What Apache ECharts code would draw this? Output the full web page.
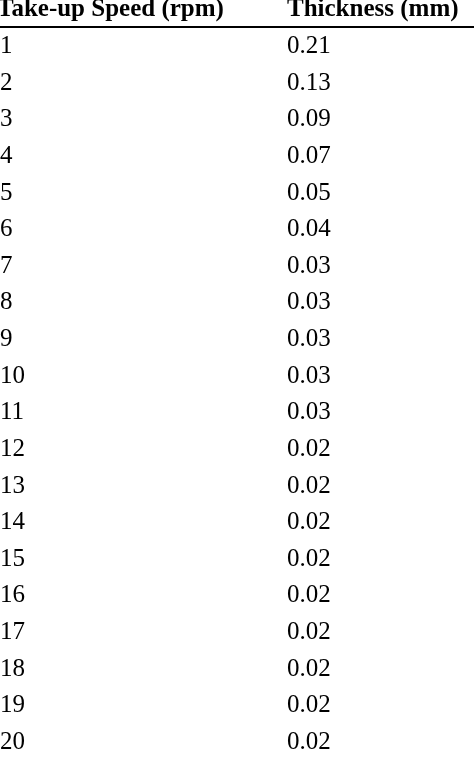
<!DOCTYPE html>
<html><head><meta charset="utf-8">
<script src="https://cdn.jsdelivr.net/npm/echarts@6/dist/echarts.min.js"></script>
<style>html,body{margin:0;padding:0;background:#fff}#c{width:474px;height:758px}</style>
</head><body><div id="c"></div>
<script>
const headers = ['Take-up Speed (rpm)', 'Thickness (mm)'];
const speeds = ['1','2','3','4','5','6','7','8','9','10','11','12','13','14','15','16','17','18','19','20'];
const thickness = ['0.21','0.13','0.09','0.07','0.05','0.04','0.03','0.03','0.03','0.03','0.03','0.02','0.02','0.02','0.02','0.02','0.02','0.02','0.02','0.02'];

const cells = [];
headers.forEach((h, c) => cells.push([c, 0, h, 1]));
speeds.forEach((s, r) => cells.push([0, r + 1, s, 0]));
thickness.forEach((t, r) => cells.push([1, r + 1, t, 0]));

const chart = echarts.init(document.getElementById('c'), null, {renderer: 'canvas'});
chart.setOption({
  animation: false,
  grid: {left: 0, right: 0, top: 0, bottom: 0},
  xAxis: {type: 'value', min: 0, max: 474 / 287, show: false},
  yAxis: {type: 'value', inverse: true, min: -0.24, max: -0.24 + 758 / 36.63, show: false},
  series: [{
    type: 'custom',
    data: cells,
    renderItem: function (params, api) {
      const p = api.coord([api.value(0), api.value(1)]);
      const bold = api.value(3) === 1;
      const children = [{
        type: 'text',
        style: {
          x: p[0] + (bold && api.value(0) === 0 ? -3 : 0), y: p[1] + 1,
          text: cells[params.dataIndex][2],
          fill: '#000',
          fontFamily: 'Liberation Serif',
          fontSize: 25,
          fontWeight: bold ? 'bold' : 'normal',
          align: 'left', verticalAlign: 'middle'
        }
      }];
      if (bold && api.value(0) === 0) {
        const q = api.coord([0, 0.5]);
        children.push({type: 'line', shape: {x1: 0, y1: q[1], x2: 474, y2: q[1]}, style: {stroke: '#000', lineWidth: 2}});
      }
      return {type: 'group', children: children};
    }
  }]
});
</script></body></html>
